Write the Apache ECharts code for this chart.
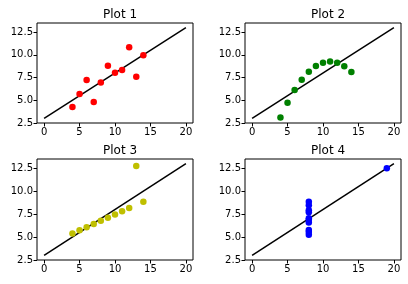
<!DOCTYPE html>
<html><head><meta charset="utf-8">
<script src="https://cdn.jsdelivr.net/npm/echarts@6/dist/echarts.min.js"></script>
<style>html,body{margin:0;padding:0;background:#fff}#c{width:408px;height:284px}</style>
</head><body><div id="c"></div>
<script>
const titles = ['Plot 1','Plot 2','Plot 3','Plot 4'];
const x123 = [10,8,13,9,11,14,6,4,12,7,5];
const y1 = [8.04,6.95,7.58,8.81,8.33,9.96,7.24,4.26,10.84,4.82,5.68];
const y2 = [9.14,8.14,8.74,8.77,9.26,8.10,6.13,3.10,9.13,7.26,4.74];
const y3 = [7.46,6.77,12.74,7.11,7.81,8.84,6.08,5.39,8.15,6.42,5.73];
const x4 = [8,8,8,8,8,8,8,19,8,8,8];
const y4 = [6.58,5.76,7.71,8.84,8.47,7.04,5.25,12.50,5.56,7.91,6.89];
const fitX = [0,20];
const fitY = [3,13];
const xTicks = [0,5,10,15,20];
const yTicks = [2.5,5,7.5,10,12.5];
const colors = ['#ff0000','#008000','#bfbf00','#0000ff'];

const xs = [x123,x123,x123,x4];
const ys = [y1,y2,y3,y4];
const grids = [
  {left:37,top:23,width:156,height:100},
  {left:245,top:23,width:156,height:100},
  {left:37,top:159,width:156,height:101},
  {left:245,top:159,width:156,height:101}
];
const font = 'DejaVu Sans';
const option = {
  animation:false,
  title: grids.map((g,i)=>({text:titles[i],left:g.left+g.width/2,top:g.top-19,textAlign:'center',
    textStyle:{fontFamily:font,fontSize:12,fontWeight:'normal',color:'#000'}})),
  grid: grids.map(g=>Object.assign({show:true,borderColor:'#000',borderWidth:1,backgroundColor:'transparent'},g)),
  xAxis: grids.map((g,i)=>({type:'value',gridIndex:i,min:-1,max:21,
    splitLine:{show:false},axisLine:{show:false,onZero:false},
    axisTick:{show:true,length:3.5,lineStyle:{color:'#000'},customValues:xTicks},
    axisLabel:{customValues:xTicks,fontFamily:font,fontSize:10,color:'#000',margin:4}})),
  yAxis: grids.map((g,i)=>({type:'value',gridIndex:i,min:2.5,max:13.5,
    splitLine:{show:false},axisLine:{show:false,onZero:false},
    axisTick:{show:true,length:3.5,lineStyle:{color:'#000'},customValues:yTicks},
    axisLabel:{customValues:yTicks,fontFamily:font,fontSize:10,color:'#000',margin:4,
      formatter:v=>v.toFixed(1)}})),
  series: []
};
for(let i=0;i<4;i++){
  option.series.push({type:'line',xAxisIndex:i,yAxisIndex:i,symbol:'none',
    data:fitX.map((x,k)=>[x,fitY[k]]),lineStyle:{color:'#000',width:1.5},z:2});
  option.series.push({type:'scatter',xAxisIndex:i,yAxisIndex:i,symbol:'circle',symbolSize:6.5,
    data:xs[i].map((x,k)=>[x,ys[i][k]]),itemStyle:{color:colors[i],opacity:1},z:3});
}
const chart = echarts.init(document.getElementById('c'),null,{renderer:'canvas'});
chart.setOption(option);
</script></body></html>
